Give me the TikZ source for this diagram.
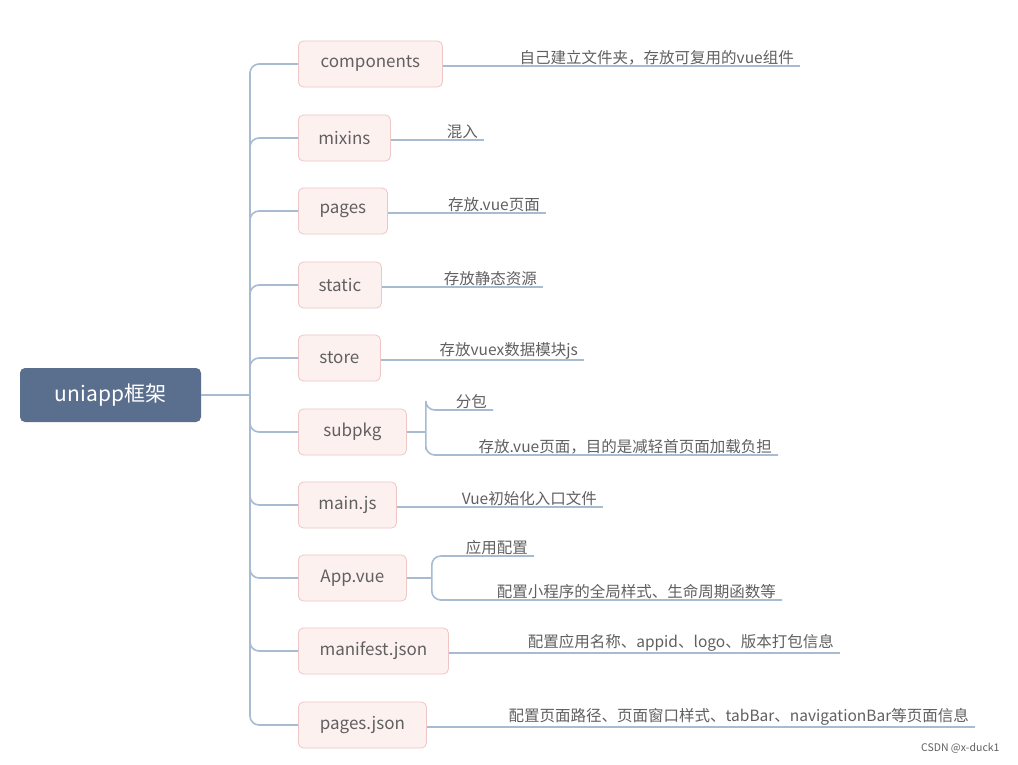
\documentclass[tikz,border=0pt]{standalone}
\usepackage{fontspec}
\setmainfont{Noto Sans CJK SC}
\begin{document}
\begin{tikzpicture}[x=1pt,y=-1pt,
  ln/.style={draw=lc,line width=1.6pt},
  child/.style={draw=cb,fill=cf,rounded corners=5pt,line width=0.8pt,minimum height=46pt,inner xsep=0pt,anchor=west,text=tc,font=\fontsize{17}{20}\selectfont},
  leaf/.style={anchor=south east,text=tc,font=\fontsize{15.5}{18}\selectfont,inner sep=2pt}]
\definecolor{lc}{HTML}{A7BBD2}
\definecolor{cb}{HTML}{EFC6C6}
\definecolor{cf}{HTML}{FDF1F0}
\definecolor{tc}{HTML}{606060}
\definecolor{rf}{HTML}{5A6F8D}
\useasboundingbox (0,0) rectangle (1018,764);
\fill[white] (0,0) rectangle (1018,764);
\node[draw=none,fill=rf,rounded corners=5pt,minimum width=181pt,minimum height=54pt,text=white,font=\fontsize{21}{24}\selectfont] (root) at (110.5,395) {uniapp框架};
\coordinate (t) at (250,395);
\draw[ln] (root.east) -- (t);
\foreach \n/\y/\w/\lab in {c1/64/144/components,c2/138/92/mixins,c3/211/89/pages,c4/285/83/static,c5/358/82/store,c6/432/108/subpkg,c7/505/98/main.js,c8/578/108/App.vue,c9/651/150/manifest.json,c10/725/128/pages.json}{
  \node[child,minimum width=\w pt] (\n) at (298,\y) {\lab};
  \draw[ln,rounded corners=9pt] (t) |- (\n.west);
}
% single leaves
\foreach \n/\e/\lab in {c1/800/{自己建立文件夹，存放可复用的vue组件},c2/484/混入,c3/546/存放.vue页面,c4/543/存放静态资源,c5/584/存放vuex数据模块js,c7/603/Vue初始化入口文件,c9/840/{配置应用名称、appid、logo、版本打包信息},c10/975/{配置页面路径、页面窗口样式、tabBar、navigationBar等页面信息}}{
  \coordinate (\n e) at ([yshift=-2pt]\n.east -| \e,0);
  \draw[ln] ([yshift=-2pt]\n.east) -- (\n e);
  \node[leaf] at ([xshift=-4pt,yshift=-1pt]\n e) {\lab};
}
% subpkg
\coordinate (s) at ([xshift=19pt]c6.east);
\coordinate (s1) at (493,410); \coordinate (s2) at (778,455);
\draw[ln] (c6.east) -- (s);
\draw[ln,rounded corners=9pt] (s) |- (s1 -| s) -- (s1);
\draw[ln,rounded corners=9pt] (s) |- (s2 -| s) -- (s2);
\node[leaf] at ([xshift=-4pt,yshift=-1pt]s1) {分包};
\node[leaf] at ([xshift=-4pt,yshift=-1pt]s2) {存放.vue页面，目的是减轻首页面加载负担};
% App.vue
\coordinate (a) at ([xshift=25pt]c8.east);
\coordinate (a1) at (534,556); \coordinate (a2) at (782,600);
\draw[ln] (c8.east) -- (a);
\draw[ln,rounded corners=9pt] (a) |- (a1);
\draw[ln,rounded corners=9pt] (a) |- (a2);
\node[leaf] at ([xshift=-4pt,yshift=-1pt]a1) {应用配置};
\node[leaf] at ([xshift=-4pt,yshift=-1pt]a2) {配置小程序的全局样式、生命周期函数等};
\node[text=tc,font=\fontsize{10.5}{12}\selectfont,anchor=east] (wm) at (1003,748) {CSDN @x-duck1};
\end{tikzpicture}
\end{document}
